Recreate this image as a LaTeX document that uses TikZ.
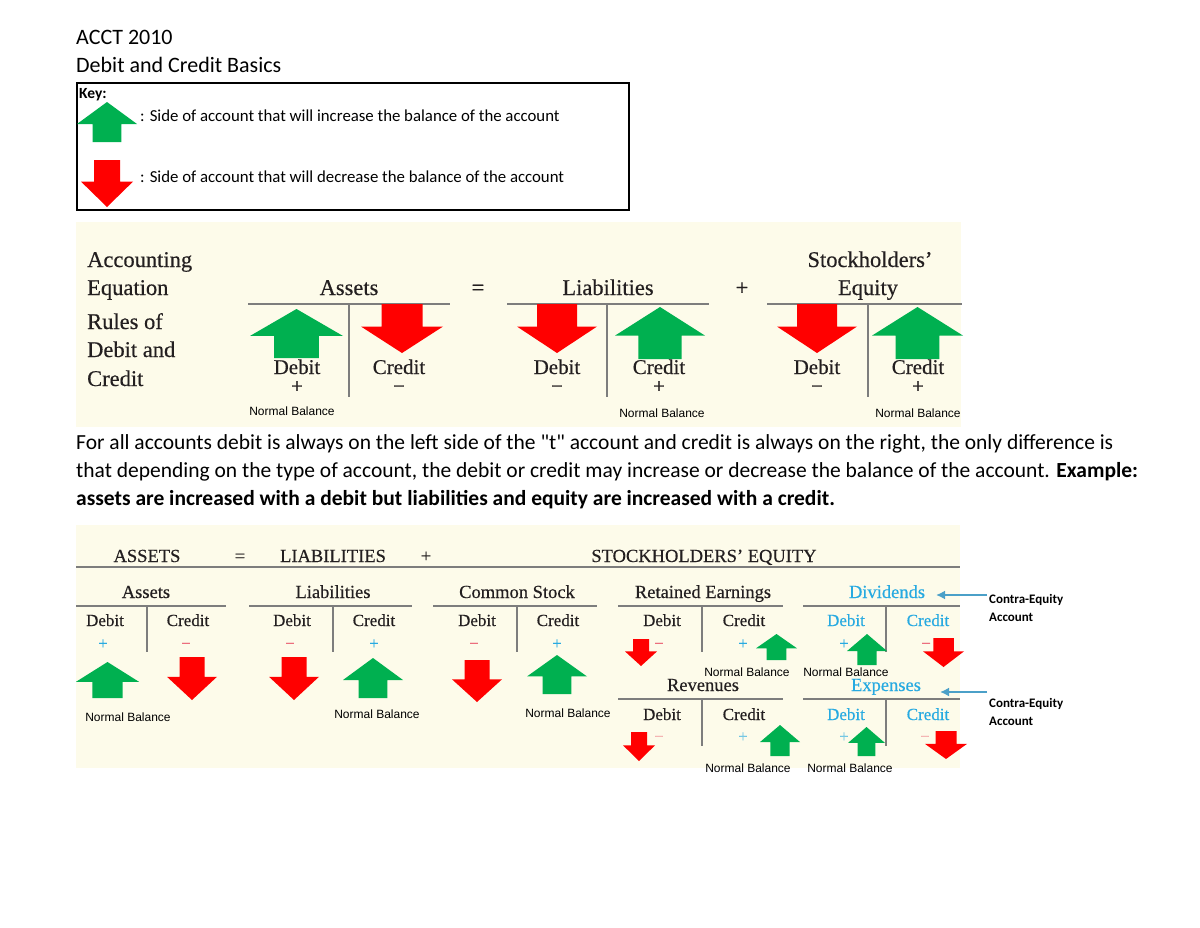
\documentclass[tikz,border=0pt]{standalone}
\usepackage{fontspec}
\setmainfont{Carlito}
\newfontfamily\calq{Carlito}[Ligatures=TeXOff]
\newfontfamily\serifA{Liberation Serif}[FakeBold=0.4]
\newfontfamily\arialA{Liberation Sans}
\usetikzlibrary{arrows.meta}
\definecolor{cream}{RGB}{253,251,234}
\definecolor{gup}{RGB}{0,176,80}
\definecolor{rdn}{RGB}{255,0,0}
\definecolor{tline}{RGB}{125,125,125}
\definecolor{txt}{RGB}{35,31,32}
\definecolor{cy}{RGB}{39,170,225}
\definecolor{pk}{RGB}{236,110,125}
\definecolor{carrowc}{RGB}{75,160,200}
\newcommand{\UpA}[4]{\fill[gup] ({(#1+#2)/2},#3) -- (#2,{#3+0.55*(#4-#3)}) -- ({#2-0.26*(#2-#1)},{#3+0.55*(#4-#3)}) -- ({#2-0.26*(#2-#1)},#4) -- ({#1+0.26*(#2-#1)},#4) -- ({#1+0.26*(#2-#1)},{#3+0.55*(#4-#3)}) -- (#1,{#3+0.55*(#4-#3)}) -- cycle;}
\newcommand{\DnA}[4]{\fill[rdn] ({#1+0.25*(#2-#1)},#3) -- ({#2-0.25*(#2-#1)},#3) -- ({#2-0.25*(#2-#1)},{#3+0.46*(#4-#3)}) -- (#2,{#3+0.46*(#4-#3)}) -- ({(#1+#2)/2},#4) -- (#1,{#3+0.46*(#4-#3)}) -- ({#1+0.25*(#2-#1)},{#3+0.46*(#4-#3)}) -- cycle;}
\tikzset{
  cal/.style={inner sep=0pt, anchor=base west, font=\fontsize{#1}{#1}\selectfont},
  serL/.style={inner sep=0pt, anchor=base west, text=txt, font=\serifA\fontsize{22.5}{24}\selectfont},
  serH/.style={inner sep=0pt, anchor=base, text=txt, font=\serifA\fontsize{22.5}{24}\selectfont},
  serD/.style={inner sep=0pt, anchor=base, text=txt, text depth=0pt, font=\serifA\fontsize{21}{22}\selectfont},
  serS/.style={inner sep=0pt, anchor=base, text=txt, text height=10pt, text depth=0pt, font=\serifA\fontsize{21}{22}\selectfont},
  capH/.style={inner sep=0pt, anchor=base, text=txt, font=\serifA\fontsize{18.5}{20}\selectfont},
  accH/.style={inner sep=0pt, anchor=base, text=txt, font=\serifA\fontsize{18.5}{20}\selectfont},
  accD/.style={inner sep=0pt, anchor=base, text=txt, text depth=0pt, font=\serifA\fontsize{17}{18}\selectfont},
  sgn/.style={inner sep=0pt, anchor=base, text height=9pt, text depth=0pt, font=\serifA\fontsize{17}{18}\selectfont},
  nb/.style={inner sep=0pt, anchor=center, font=\arialA\fontsize{12}{13}\selectfont},
  tl/.style={draw=tline, line width=2.2pt},
  tlthin/.style={draw=tline, line width=1.8pt},
  ce/.style={inner sep=0pt, anchor=base west, align=left, font=\bfseries\fontsize{13}{18}\selectfont},
  carrow/.style={draw=carrowc, line width=1.8pt, -{Latex[length=9pt,width=9pt]}},
}
\begin{document}
\begin{tikzpicture}[x=1pt,y=-1pt]
\useasboundingbox (0,0) rectangle (1200,927);
\fill[white] (0,0) rectangle (1200,927);
% title
\node[cal=22] (t1) at (76,44) {ACCT 2010};
\node[cal=22] (t2) at (76,72) {Debit and Credit Basics};
% key box
\draw[line width=2.5pt] (77,83) rectangle (629,210);
\node[cal=15.5, font=\bfseries\fontsize{15.5}{15.5}\selectfont] (key) at (79,98) {Key:};
\UpA{77}{137}{102}{142}
\DnA{81}{133}{160}{207}
\node[cal=16.8] (k1) at (140,121) {: Side of account that will increase the balance of the account};
\node[cal=16.8] (k2) at (140,182) {: Side of account that will decrease the balance of the account};
% section 1
\fill[cream] (76,222) rectangle (961,427);
\node[serL] (a1) at (87,267) {Accounting};
\node[serL] (a2) at (87,295) {Equation};
\node[serL] (a3) at (87,329) {Rules of};
\node[serL] (a4) at (87,357) {Debit and};
\node[serL] (a5) at (87,386) {Credit};
\node[serH] (hA) at (349,295) {Assets};
\node[serH] (eq1) at (478,295) {=};
\node[serH] (hL) at (608,295) {Liabilities};
\node[serH] (pl1) at (742,295) {+};
\node[serH] (hS) at (870,267) {Stockholders’};
\node[serH] (hE) at (868,295) {Equity};
\draw[tl] (248,304) -- (450,304) (349,304) -- (349,397);
\draw[tl] (507,304) -- (709,304) (607,304) -- (607,397);
\draw[tl] (767,304) -- (962,304) (868,304) -- (868,397);
\UpA{250}{343}{309}{358}
\DnA{361}{443}{304}{353}
\DnA{517}{597}{304}{353}
\UpA{615}{705}{307}{359}
\DnA{777}{857}{304}{353}
\UpA{872}{963}{307}{359}
\node[serD] (d1) at (297,374) {Debit};
\node[serS] (d1s) at (297,393) {+};
\node[serD] (c1) at (399,374) {Credit};
\node[serS] (c1s) at (399,393) {−};
\node[serD] (d2) at (557,374) {Debit};
\node[serS] (d2s) at (557,393) {−};
\node[serD] (c2) at (659,374) {Credit};
\node[serS] (c2s) at (659,393) {+};
\node[serD] (d3) at (817,374) {Debit};
\node[serS] (d3s) at (817,393) {−};
\node[serD] (c3) at (918,374) {Credit};
\node[serS] (c3s) at (918,393) {+};
\node[nb] (n1) at (292,411) {Normal Balance};
\node[nb] (n2) at (662,413) {Normal Balance};
\node[nb] (n3) at (918,413) {Normal Balance};
% paragraph
\node[cal=21.5] (p1) at (76,449) {For all accounts debit is always on the left side of the {\calq"}t{\calq"} account and credit is always on the right, the only difference is};
\node[cal=21.5] (p2) at (76,477) {that depending on the type of account, the debit or credit may increase or decrease the balance of the account. \textbf{Example:}};
\node[cal=21.5, font=\bfseries\fontsize{21.5}{21.5}\selectfont] (p3) at (76,505) {assets are increased with a debit but liabilities and equity are increased with a credit.};
% section 2
\fill[cream] (76,525) rectangle (960,768);
\node[capH] (H1) at (147,562) {ASSETS};
\node[capH] (H2) at (240,562) {=};
\node[capH] (H3) at (333,562) {LIABILITIES};
\node[capH] (H4) at (426,562) {+};
\node[capH] (H5) at (704,562) {STOCKHOLDERS’ EQUITY};
\draw[tlthin] (76,567) -- (960,567);
% row 1 headers
\node[accH] (tA) at (146,598) {Assets};
\node[accH] (tL) at (333,598) {Liabilities};
\node[accH] (tC) at (517,598) {Common Stock};
\node[accH] (tR) at (703,598) {Retained Earnings};
\node[accH, text=cy] (tD) at (887,598) {Dividends};
\draw[tlthin] (76,606) -- (226,606) (147,606) -- (147,652);
\draw[tlthin] (249,606) -- (412,606) (333,606) -- (333,652);
\draw[tlthin] (433,606) -- (597,606) (517,606) -- (517,652);
\draw[tlthin] (618,606) -- (783,606) (702,606) -- (702,652);
\draw[tlthin] (803,606) -- (960,606) (886,606) -- (886,652);
\node[accD] (r1a) at (105,626) {Debit};
\node[accD] (r1b) at (188,626) {Credit};
\node[accD] (r1c) at (292,626) {Debit};
\node[accD] (r1d) at (374,626) {Credit};
\node[accD] (r1e) at (477,626) {Debit};
\node[accD] (r1f) at (558,626) {Credit};
\node[accD] (r1g) at (662,626) {Debit};
\node[accD] (r1h) at (744,626) {Credit};
\node[accD, text=cy] (r1i) at (846,626) {Debit};
\node[accD, text=cy] (r1j) at (928,626) {Credit};
\node[sgn, text=cy] (s1a) at (103,649) {+};
\node[sgn, text=pk] (s1b) at (186,649) {−};
\node[sgn, text=pk] (s1c) at (290,649) {−};
\node[sgn, text=cy] (s1d) at (374,649) {+};
\node[sgn, text=pk] (s1e) at (474,649) {−};
\node[sgn, text=cy] (s1f) at (557,649) {+};
\node[sgn, text=pk] (s1g) at (659,649) {−};
\node[sgn, text=cy] (s1h) at (743,649) {+};
\node[sgn, text=cy] (s1i) at (844,649) {+};
\node[sgn, text=pk] (s1j) at (926,649) {−};
\UpA{76}{139}{662}{698}
\DnA{167}{217}{657}{700}
\DnA{269}{319}{657}{700}
\UpA{343}{403}{658}{698}
\DnA{452}{502}{660}{702}
\UpA{527}{587}{655}{694}
\DnA{625}{657}{639}{666}
\UpA{756}{797}{634}{660}
\UpA{847}{887}{634}{665}
\DnA{923}{964}{638}{667}
\node[nb] (nb1) at (128,717) {Normal Balance};
\node[nb] (nb2) at (377,714) {Normal Balance};
\node[nb] (nb3) at (568,713) {Normal Balance};
\node[nb] (nb4) at (747,672) {Normal Balance};
\node[nb] (nb5) at (846,672) {Normal Balance};
% row 2
\node[accH] (tRv) at (703,691) {Revenues};
\node[accH, text=cy] (tEx) at (886,691) {Expenses};
\draw[tlthin] (618,699) -- (783,699) (702,699) -- (702,746);
\draw[tlthin] (803,699) -- (960,699) (886,699) -- (886,746);
\node[accD] (r2a) at (662,720) {Debit};
\node[accD] (r2b) at (744,720) {Credit};
\node[accD, text=cy] (r2c) at (846,720) {Debit};
\node[accD, text=cy] (r2d) at (928,720) {Credit};
\node[sgn, text=pk, opacity=0.45] (s2a) at (659,742) {−};
\node[sgn, text=cy, opacity=0.6] (s2b) at (743,742) {+};
\node[sgn, text=cy, opacity=0.6] (s2c) at (844,742) {+};
\node[sgn, text=pk, opacity=0.45] (s2d) at (925,742) {−};
\DnA{623}{655}{732}{761}
\UpA{760}{800}{725}{756}
\UpA{848}{885}{727}{756}
\DnA{925}{967}{731}{759}
\node[nb] (nb6) at (748,768) {Normal Balance};
\node[nb] (nb7) at (850,768) {Normal Balance};
% contra-equity notes
\node[ce] (ce1) at (989,621) {Contra-Equity\\Account};
\node[ce] (ce2) at (989,725) {Contra-Equity\\Account};
\coordinate (ca1) at (987,595);
\coordinate (cb1) at (936,595);
\coordinate (ca2) at (987,692);
\coordinate (cb2) at (940,692);
\draw[carrow] (ca1) -- (cb1);
\draw[carrow] (ca2) -- (cb2);
\end{tikzpicture}
\end{document}
